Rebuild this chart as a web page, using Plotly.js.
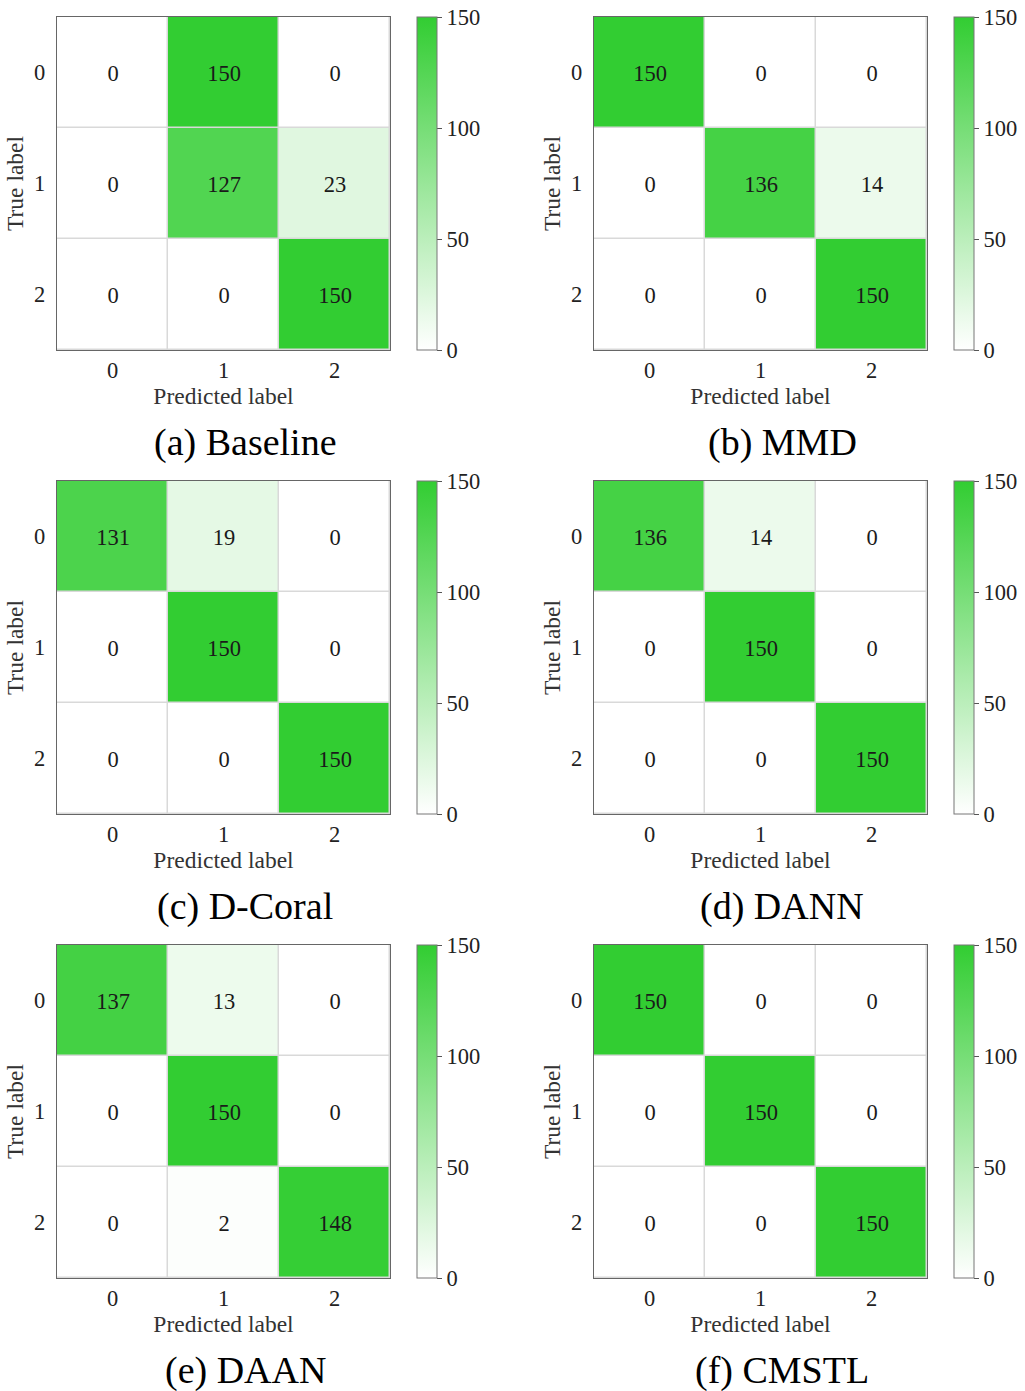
<!DOCTYPE html>
<html>
<head>
<meta charset="utf-8">
<script src="https://cdn.plot.ly/plotly-3.0.1.min.js"></script>
<style>html,body{margin:0;padding:0;background:#fff;}#chart{width:1025px;height:1391px;}</style>
</head>
<body>
<div id="chart"></div>
<script>
// ---- data ----
const classLabels = ['0', '1', '2'];
const panelTitles = ['(a) Baseline', '(b) MMD', '(c) D-Coral', '(d) DANN', '(e) DAAN', '(f) CMSTL'];
const baseline = [[0, 150, 0], [0, 127, 23], [0, 0, 150]];
const mmd      = [[150, 0, 0], [0, 136, 14], [0, 0, 150]];
const dcoral   = [[131, 19, 0], [0, 150, 0], [0, 0, 150]];
const dann     = [[136, 14, 0], [0, 150, 0], [0, 0, 150]];
const daan     = [[137, 13, 0], [0, 150, 0], [0, 2, 148]];
const cmstl    = [[150, 0, 0], [0, 150, 0], [0, 0, 150]];
const matrices = [baseline, mmd, dcoral, dann, daan, cmstl];
const colorTicks = [0, 50, 100, 150];
const xTitle = 'Predicted label';
const yTitle = 'True label';

// ---- layout geometry (pixels) ----
const W = 1025, H = 1391;
const colX = [[57, 390], [594, 927]];
const rowY = [[17, 350], [481, 814], [945, 1278]];
const cbOffset = 27, cbThick = 20;
const captionY = [442, 906, 1370];
const captionX = [245, 782];

const FONT = '"Liberation Serif", "Times New Roman", serif';
const colorscale = [[0, '#ffffff'], [1, '#32cd32']];

const traces = [];
const layout = {
  width: W, height: H,
  margin: {l: 0, r: 0, t: 0, b: 0},
  paper_bgcolor: '#ffffff',
  plot_bgcolor: '#d9d9d9',
  showlegend: false,
  font: {family: FONT, color: '#222'},
  annotations: []
};

matrices.forEach((m, i) => {
  const r = Math.floor(i / 2), c = i % 2;
  const n = i + 1;
  const xa = 'xaxis' + (n === 1 ? '' : n);
  const ya = 'yaxis' + (n === 1 ? '' : n);
  const x0 = colX[c][0], x1 = colX[c][1];
  const y0 = rowY[r][0], y1 = rowY[r][1];
  traces.push({
    type: 'heatmap',
    z: m,
    x: classLabels.map(Number),
    y: classLabels.map(Number),
    xaxis: 'x' + (n === 1 ? '' : n),
    yaxis: 'y' + (n === 1 ? '' : n),
    zmin: 0, zmax: 150,
    colorscale: colorscale,
    xgap: 1.5, ygap: 1.5,
    texttemplate: '%{z}',
    textfont: {family: FONT, size: 22.5, color: '#1a1a1a'},
    hoverinfo: 'skip',
    colorbar: {
      x: (x1 + cbOffset) / W, xanchor: 'left', xref: 'paper',
      y: 1 - (y0 + y1) / 2 / H, yanchor: 'middle', yref: 'paper',
      lenmode: 'pixels', len: y1 - y0,
      thicknessmode: 'pixels', thickness: cbThick,
      outlinecolor: '#777', outlinewidth: 1,
      ticks: 'outside', ticklen: 5, tickcolor: '#555',
      tickvals: colorTicks,
      tickfont: {family: FONT, size: 22.5, color: '#222'},
      xpad: 0, ypad: 0
    }
  });
  layout[xa] = {
    domain: [x0 / W, x1 / W],
    anchor: 'y' + (n === 1 ? '' : n),
    range: [-0.5, 2.5],
    tickvals: [0, 1, 2], ticktext: classLabels,
    showgrid: false, zeroline: false,
    showline: true, linecolor: '#666', linewidth: 1.2, mirror: true,
    ticks: '', ticklabelstandoff: 0,
    tickfont: {family: FONT, size: 22.5, color: '#222'},
    title: {text: xTitle, font: {family: FONT, size: 23.5, color: '#333'}, standoff: 2},
    fixedrange: true
  };
  layout[ya] = {
    domain: [1 - y1 / H, 1 - y0 / H],
    anchor: 'x' + (n === 1 ? '' : n),
    range: [2.5, -0.5],
    tickvals: [0, 1, 2], ticktext: classLabels,
    showgrid: false, zeroline: false,
    showline: true, linecolor: '#666', linewidth: 1.2, mirror: true,
    ticks: '', ticklabelstandoff: 6,
    tickfont: {family: FONT, size: 22.5, color: '#222'},
    title: {text: yTitle, font: {family: FONT, size: 23.5, color: '#333'}, standoff: 3},
    fixedrange: true
  };
  layout.annotations.push({
    xref: 'paper', yref: 'paper',
    x: captionX[c] / W, y: 1 - captionY[r] / H,
    xanchor: 'center', yanchor: 'middle',
    text: panelTitles[i], showarrow: false,
    font: {family: FONT, size: 38, color: '#000'}
  });
});

Plotly.newPlot('chart', traces, layout, {staticPlot: true, displayModeBar: false});
</script>
</body>
</html>
